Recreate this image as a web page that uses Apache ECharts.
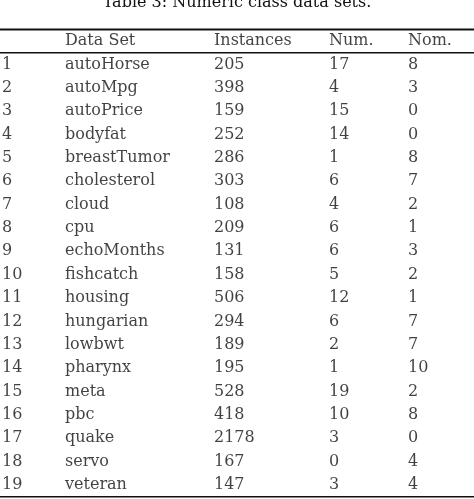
<!DOCTYPE html>
<html><head><meta charset="utf-8">
<script src="https://cdn.jsdelivr.net/npm/echarts@6/dist/echarts.min.js"></script>
<style>html,body{margin:0;padding:0;background:#fff}#c{width:474px;height:499px}</style>
</head><body><div id="c"></div>
<script>
const headers = ["", "Data Set", "Instances", "Num.", "Nom."];
const rowIds = ["1","2","3","4","5","6","7","8","9","10","11","12","13","14","15","16","17","18","19"];
const dataSets = ["autoHorse","autoMpg","autoPrice","bodyfat","breastTumor","cholesterol","cloud","cpu","echoMonths","fishcatch","housing","hungarian","lowbwt","pharynx","meta","pbc","quake","servo","veteran"];
const instances = [205,398,159,252,286,303,108,209,131,158,506,294,189,195,528,418,2178,167,147];
const numAttrs = [17,4,15,14,1,6,4,6,6,5,12,6,2,1,19,10,3,0,3];
const nomAttrs = [8,3,0,0,8,7,2,1,3,2,1,7,7,10,2,8,0,4,4];
const colX = [2, 65, 214, 329, 408];

const rows = ["h"].concat(rowIds);
const columns = [rowIds, dataSets, instances, numAttrs, nomAttrs];
const font = {fontFamily:"DejaVu Serif", fontSize:16, color:"#111"};
const series = columns.map((col, ci) => ({
  type:"scatter", symbolSize:0, silent:true,
  data: [[colX[ci], "h", headers[ci]]].concat(col.map((v,i)=>[colX[ci], rowIds[i], String(v)])),
  label:{show:true, position:"right", distance:0, formatter:p=>p.value[2], ...font}
}));
const chart = echarts.init(document.getElementById("c"));
chart.setOption({
  animation:false,
  title:{text:"Table 3: Numeric class data sets.", left:"center", top:-10,
    textStyle:{fontFamily:"DejaVu Serif", fontSize:16, fontWeight:"normal", color:"#111"}},
  grid:{left:0,right:0,top:29.3,bottom:2.3},
  xAxis:{type:"value", min:0, max:474, show:false},
  yAxis:{type:"category", data:rows, inverse:true, show:false},
  series: series,
  graphic:[
    {type:"rect", shape:{x:0,y:28.5,width:474,height:2}, style:{fill:"#111"}},
    {type:"rect", shape:{x:0,y:52,width:474,height:1.5}, style:{fill:"#111"}},
    {type:"rect", shape:{x:0,y:496,width:474,height:1.5}, style:{fill:"#111"}}
  ]
});
</script></body></html>
